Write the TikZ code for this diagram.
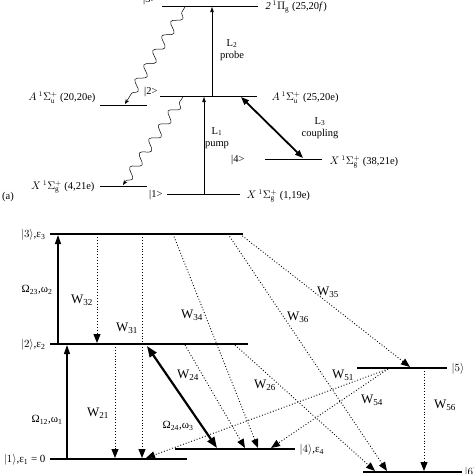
\documentclass[tikz,border=0pt]{standalone}
\usepackage{fontspec}
\setmainfont{Liberation Serif}
\usetikzlibrary{arrows.meta, decorations.pathmorphing}

\begin{document}
\begin{tikzpicture}[x=1pt, y=-1pt, font=\fontsize{10.5}{12}\selectfont]
        % Setup the styles for levels and transitions
        \tikzset{level/.style={line width=0.8pt}}
        \tikzset{level2/.style={line width=1.1pt}}
        \tikzset{level3/.style={line width=2.6pt}}
        \tikzset{laser/.style={line width=0.6pt,
                               -{Triangle[length=5pt,width=3.5pt]}}}
        \tikzset{laser2/.style={line width=1.2pt,
                                -{Triangle[length=9pt,width=6pt]}}}
        \tikzset{coupling/.style={line width=1.8pt,
                                  {Triangle[length=8pt,width=6pt]}-{Triangle[length=8pt,width=6pt]}}}
        \tikzset{coupling2/.style={line width=2.2pt,
                                   {Triangle[length=11pt,width=8pt]}-{Triangle[length=11pt,width=8pt]}}}
        \tikzset{decay/.style={dotted, line width=0.9pt,
                               -{Triangle[length=9pt,width=7pt]}}}
        \tikzset{fluor/.style={line width=0.5pt, -{Stealth[length=5pt,width=4pt]},
                               decorate, decoration={snake, amplitude=4.5pt,
                               segment length=17pt, pre length=6pt, post length=4pt}}}
        \tikzset{big/.style={font=\fontsize{13}{15}\selectfont}}
        \tikzset{mid/.style={font=\fontsize{11}{13}\selectfont}}

        \useasboundingbox (0,0) rectangle (474,474);

        % (a) levels of the upper scheme
        \coordinate (u3l) at (162,6);   \coordinate (u3r) at (258,6);
        \coordinate (u2l) at (160,96);  \coordinate (u2r) at (257,96);
        \coordinate (uAl) at (100,105); \coordinate (uAr) at (147,105);
        \coordinate (u4l) at (265,159); \coordinate (u4r) at (322,159);
        \coordinate (uXl) at (100,186); \coordinate (uXr) at (147,186);
        \coordinate (u1l) at (167,194); \coordinate (u1r) at (240,194);
        \draw[level] (u3l) -- (u3r);
        \draw[level] (u2l) -- (u2r);
        \draw[level] (uAl) -- (uAr);
        \draw[level] (u4l) -- (u4r);
        \draw[level] (uXl) -- (uXr);
        \draw[level] (u1l) -- (u1r);

        % labels of the upper scheme
        \node[anchor=base east] (k3) at (160,2) {|3>};
        \node[anchor=east] (k2) at (161,92) {|2>};
        \node[anchor=east] (k1) at (166,195) {|1>};
        \node[anchor=east] (k4) at (248,160) {|4>};
        \node[anchor=west] (t3) at (262,7) {\textit{2}\,$^1\Pi_{\mathrm g}$ (25,20\textit{f})};
        \node[anchor=west] (t2) at (268,98) {$A\,^1\Sigma_{\mathrm u}^+$ (25,20e)};
        \node[anchor=east] (tA) at (99,98) {$A\,^1\Sigma_{\mathrm u}^+$ (20,20e)};
        \node[anchor=west] (t4) at (326,162) {$X\,^1\Sigma_{\mathrm g}^+$ (38,21e)};
        \node[anchor=east] (tX) at (98,187) {$X\,^1\Sigma_{\mathrm g}^+$ (4,21e)};
        \node[anchor=west] (t1) at (243,196) {$X\,^1\Sigma_{\mathrm g}^+$ (1,19e)};
        \node[align=center] (L2) at (232,50) {L\textsubscript{2}\\probe};
        \node[align=center] (L1) at (217,138) {L\textsubscript{1}\\pump};
        \node[align=center] (L3) at (320,128) {L\textsubscript{3}\\coupling};
        \node (pa) at (8,197) {(a)};

        % transitions of the upper scheme
        \coordinate (p1a) at (204,194); \coordinate (p1b) at (204,97);
        \coordinate (p2a) at (212,96);  \coordinate (p2b) at (212,7);
        \coordinate (c3a) at (241,97);  \coordinate (c3b) at (303,158);
        \coordinate (f1a) at (185,7);   \coordinate (f1b) at (125,104);
        \coordinate (f2a) at (183,97);  \coordinate (f2b) at (123,185);
        \draw (p1a) edge[laser]    (p1b)
              (p2a) edge[laser]    (p2b)
              (c3a) edge[coupling] (c3b)
              (f1a) edge[fluor]    (f1b)
              (f2a) edge[fluor]    (f2b);

        % levels of the lower scheme
        \coordinate (l3l) at (50,234);  \coordinate (l3r) at (243,234);
        \coordinate (l2l) at (50,344);  \coordinate (l2r) at (248,344);
        \coordinate (l1l) at (50,459);  \coordinate (l1r) at (187,459);
        \coordinate (l4l) at (175,449); \coordinate (l4r) at (295,449);
        \coordinate (l5l) at (357,368); \coordinate (l5r) at (447,368);
        \coordinate (l6l) at (363,472); \coordinate (l6r) at (462,472);
        \draw[level2] (l3l) -- (l3r);
        \draw[level2] (l2l) -- (l2r);
        \draw[level2] (l1l) -- (l1r);
        \draw[level2] (l4l) -- (l4r);
        \draw[level2] (l5l) -- (l5r);
        \draw[level3] (l6l) -- (l6r);

        % labels of the lower scheme
        \node[mid, anchor=east] (s3) at (49,235) {$|3\rangle$,ε\textsubscript{3}};
        \node[mid, anchor=east] (s2) at (49,345) {$|2\rangle$,ε\textsubscript{2}};
        \node[mid, anchor=east] (s1) at (49,460) {$|1\rangle$,ε\textsubscript{1} = 0};
        \node[mid, anchor=west] (s4) at (296,450) {$|4\rangle$,ε\textsubscript{4}};
        \node[mid, anchor=west] (s5) at (448,369) {$|5\rangle$};
        \node[mid, anchor=west] (s6) at (461,473) {$|6\rangle$};

        % transitions of the lower scheme
        \coordinate (o23s) at (58,344);  \coordinate (o23e) at (58,235);
        \coordinate (o12s) at (67,459);  \coordinate (o12e) at (67,345);
        \coordinate (w32s) at (97,234);  \coordinate (w32e) at (97,343);
        \coordinate (w31s) at (142,234); \coordinate (w31e) at (142,458);
        \coordinate (w21s) at (115,344); \coordinate (w21e) at (115,458);
        \coordinate (o24s) at (147,346); \coordinate (o24e) at (217,448);
        \coordinate (w24s) at (185,345); \coordinate (w24e) at (245,448);
        \coordinate (w34s) at (173,234); \coordinate (w34e) at (258,448);
        \coordinate (w36s) at (228,234); \coordinate (w36e) at (387,471);
        \coordinate (w35s) at (240,234); \coordinate (w35e) at (410,367);
        \coordinate (w26s) at (235,345); \coordinate (w26e) at (375,471);
        \coordinate (w5s)  at (388,369);
        \coordinate (w51e) at (146,458); \coordinate (w54e) at (271,448);
        \coordinate (w56s) at (424,368); \coordinate (w56e) at (424,471);
        \draw (o23s) edge[laser2]    (o23e)
              (o12s) edge[laser2]    (o12e)
              (o24s) edge[coupling2] (o24e)
              (w32s) edge[decay]     (w32e)
              (w31s) edge[decay]     (w31e)
              (w21s) edge[decay]     (w21e)
              (w24s) edge[decay]     (w24e)
              (w34s) edge[decay]     (w34e)
              (w36s) edge[decay]     (w36e)
              (w35s) edge[decay]     (w35e)
              (w26s) edge[decay]     (w26e)
              (w5s)  edge[decay]     (w51e)
              (w5s)  edge[decay]     (w54e)
              (w56s) edge[decay]     (w56e);

        % rate labels
        \node[mid] (n23) at (37,290) {Ω\textsubscript{23},ω\textsubscript{2}};
        \node[mid] (n12) at (47,420) {Ω\textsubscript{12},ω\textsubscript{1}};
        \node[mid] (n24) at (178,426) {Ω\textsubscript{24},ω\textsubscript{3}};
        \node[big] (m32) at (82,300) {W\textsubscript{32}};
        \node[big] (m31) at (127,328) {W\textsubscript{31}};
        \node[big] (m34) at (192,315) {W\textsubscript{34}};
        \node[big] (m36) at (298,317) {W\textsubscript{36}};
        \node[big] (m35) at (328,292) {W\textsubscript{35}};
        \node[big] (m24) at (188,375) {W\textsubscript{24}};
        \node[big] (m26) at (265,385) {W\textsubscript{26}};
        \node[big] (m51) at (343,375) {W\textsubscript{51}};
        \node[big] (m54) at (372,400) {W\textsubscript{54}};
        \node[big] (m56) at (445,405) {W\textsubscript{56}};
        \node[big] (m21) at (98,413) {W\textsubscript{21}};
\end{tikzpicture}
\end{document}
